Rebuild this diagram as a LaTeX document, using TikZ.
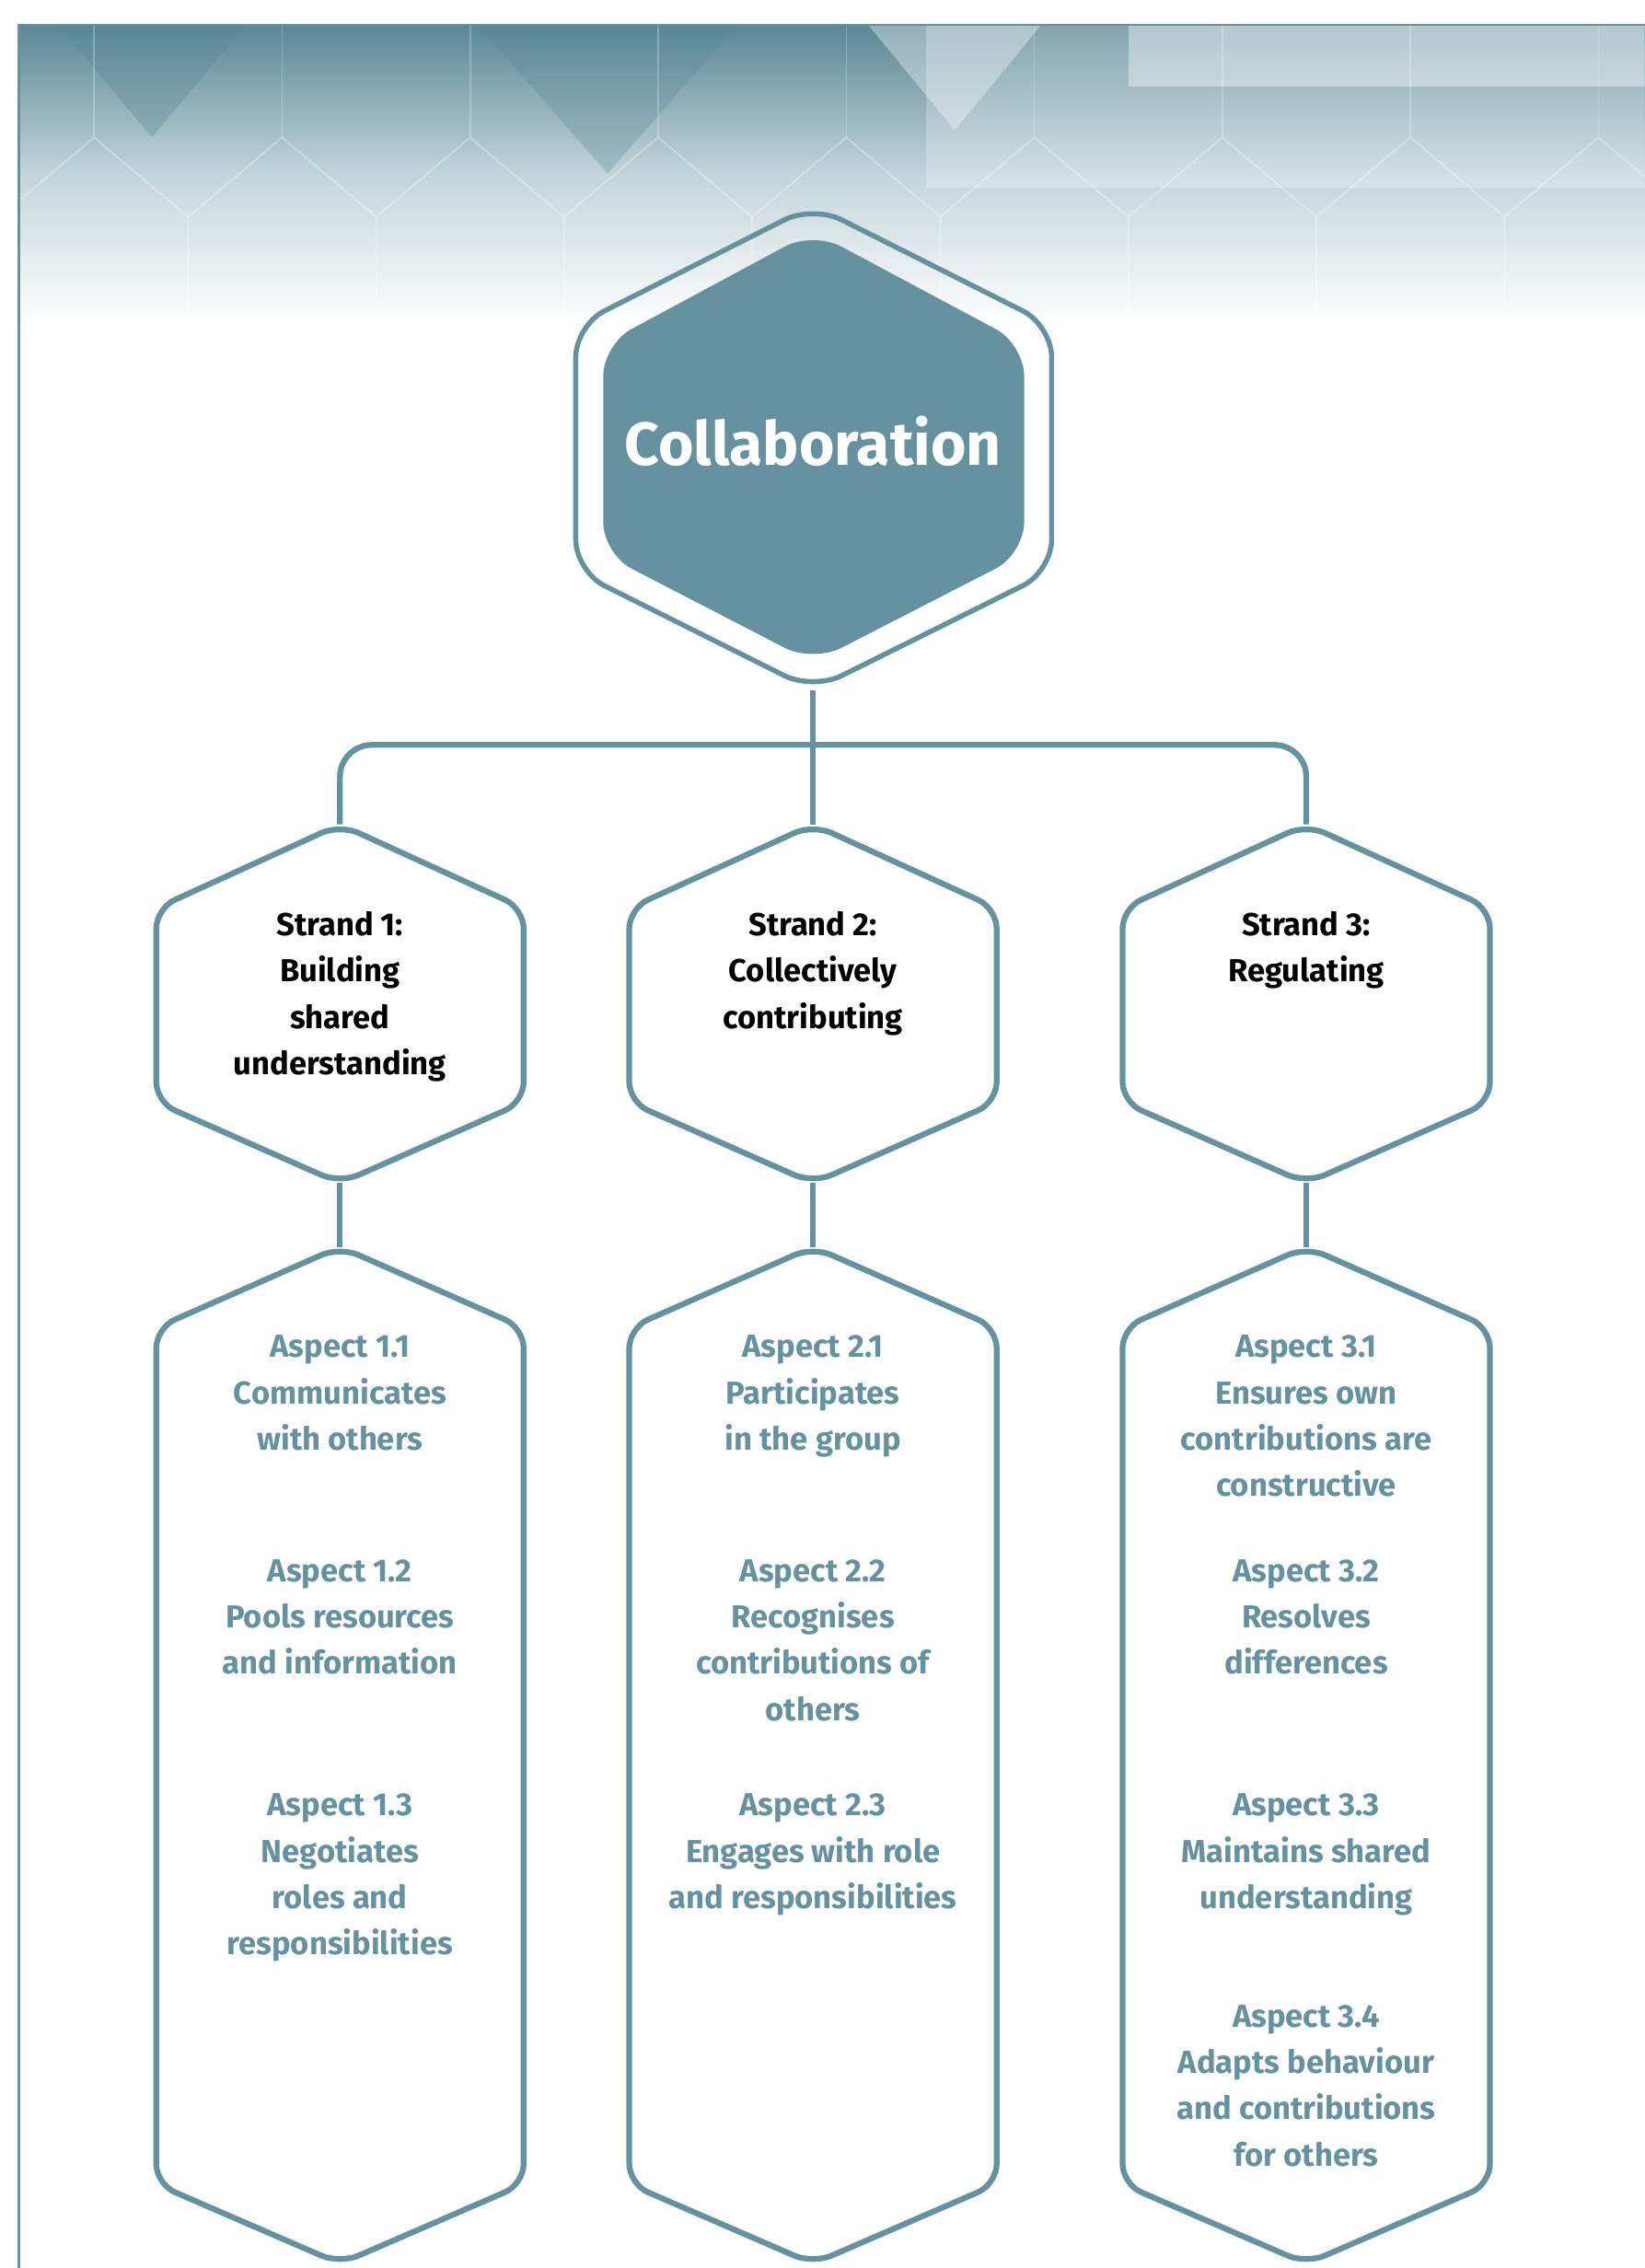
\documentclass[tikz,border=0pt]{standalone}
\usepackage{fontspec}
\setmainfont{Fira Sans}
\definecolor{teal1}{HTML}{66919E}
\definecolor{tealdark}{HTML}{5A8794}
\definecolor{teallight}{HTML}{B5CBD1}
\tikzset{
  hexline/.style={draw=teal1, line width=4pt, rounded corners=14pt, line join=round},
  conn/.style={draw=teal1, line width=4pt, rounded corners=22pt},
  strandtxt/.style={align=center, inner sep=0pt, anchor=north, font=\bfseries\fontsize{22}{32}\selectfont, text=black},
  aspecttxt/.style={align=center, inner sep=0pt, anchor=north, font=\bfseries\fontsize{22}{32}\selectfont, text=teal1},
}
\begin{document}
\begin{tikzpicture}[x=1pt,y=-1pt]
\useasboundingbox (0,0) rectangle (1137,1568);
\fill[white] (0,0) rectangle (1137,1568);
% banner
\shade[top color=tealdark, bottom color=white, middle color=teallight!80!white] (13,17) rectangle (1137,225);
\begin{scope}
\clip (13,17) rectangle (1137,225);
\fill[tealdark, opacity=0.35] (40,17) -- (105,95) -- (170,17) -- cycle;
\fill[tealdark, opacity=0.3] (330,17) -- (420,120) -- (510,17) -- cycle;
\fill[white, opacity=0.35] (600,17) -- (660,90) -- (720,17) -- cycle;
\fill[white, opacity=0.4] (780,17) rectangle (1137,60);
\fill[white, opacity=0.25] (640,17) rectangle (1137,130);
\foreach \cx in {0,130,260,390,520,650,780,910,1040}{
  \draw[white, opacity=0.35, line width=1pt] (\cx,150) -- (\cx+65,95) -- (\cx+130,150) -- (\cx+130,230);
  \draw[white, opacity=0.25, line width=1pt] (\cx+65,17) -- (\cx+65,95);
}
\end{scope}
% frame
\draw[teal1, line width=1.5pt] (13,1568) -- (13,17) -- (1137,17);
% main hexagon
\coordinate (mt) at (562,142);
\coordinate (mb) at (562,477);
\draw[hexline, line width=3.5pt, rounded corners=22pt] (mt) -- (727,225) -- (727,395) -- (mb) -- (398,395) -- (398,225) -- cycle;
\fill[teal1, rounded corners=22pt] (562,160) -- (708,238) -- (708,383) -- (562,458) -- (417,383) -- (417,238) -- cycle;
\node (collab) at (562,305) {\color{white}\bfseries\fontsize{42}{50}\selectfont Collaboration};
% strand & aspect hexagons
\foreach \n/\cx in {1/235,2/562,3/903}{
  \coordinate (st\n) at (\cx,570);
  \coordinate (sb\n) at (\cx,818);
  \coordinate (at\n) at (\cx,862);
  \coordinate (ab\n) at (\cx,1565);
  \draw[hexline] (st\n) -- (\cx+127,628) -- (\cx+127,762) -- (sb\n) -- (\cx-127,762) -- (\cx-127,628) -- cycle;
  \draw[hexline] (at\n) -- (\cx+127,918) -- (\cx+127,1510) -- (ab\n) -- (\cx-127,1510) -- (\cx-127,918) -- cycle;
  \draw[conn] (sb\n) -- (at\n);
}
% connectors
\coordinate (bl) at (235,515);
\coordinate (br) at (903,515);
\draw[conn] (st1) -- (bl) -- (br) -- (st3);
\draw[conn] (mb) -- (st2);
% strand texts
\node[strandtxt] (s1) at (235,630) {Strand 1:\\Building\\shared\\understanding};
\node[strandtxt] (s2) at (562,630) {Strand 2:\\Collectively\\contributing};
\node[strandtxt] (s3) at (903,630) {Strand 3:\\Regulating};
% aspect texts
\node[aspecttxt] (a11) at (235,923) {Aspect 1.1\\Communicates\\with others};
\node[aspecttxt] (a12) at (235,1078) {Aspect 1.2\\Pools resources\\and information};
\node[aspecttxt] (a13) at (235,1240) {Aspect 1.3\\Negotiates\\roles and\\responsibilities};
\node[aspecttxt] (a21) at (562,923) {Aspect 2.1\\Participates\\in the group};
\node[aspecttxt] (a22) at (562,1078) {Aspect 2.2\\Recognises\\contributions of\\others};
\node[aspecttxt] (a23) at (562,1240) {Aspect 2.3\\Engages with role\\and responsibilities};
\node[aspecttxt] (a31) at (903,923) {Aspect 3.1\\Ensures own\\contributions are\\constructive};
\node[aspecttxt] (a32) at (903,1078) {Aspect 3.2\\Resolves\\differences};
\node[aspecttxt] (a33) at (903,1240) {Aspect 3.3\\Maintains shared\\understanding};
\node[aspecttxt] (a34) at (903,1386) {Aspect 3.4\\Adapts behaviour\\and contributions\\for others};
\end{tikzpicture}
\end{document}
